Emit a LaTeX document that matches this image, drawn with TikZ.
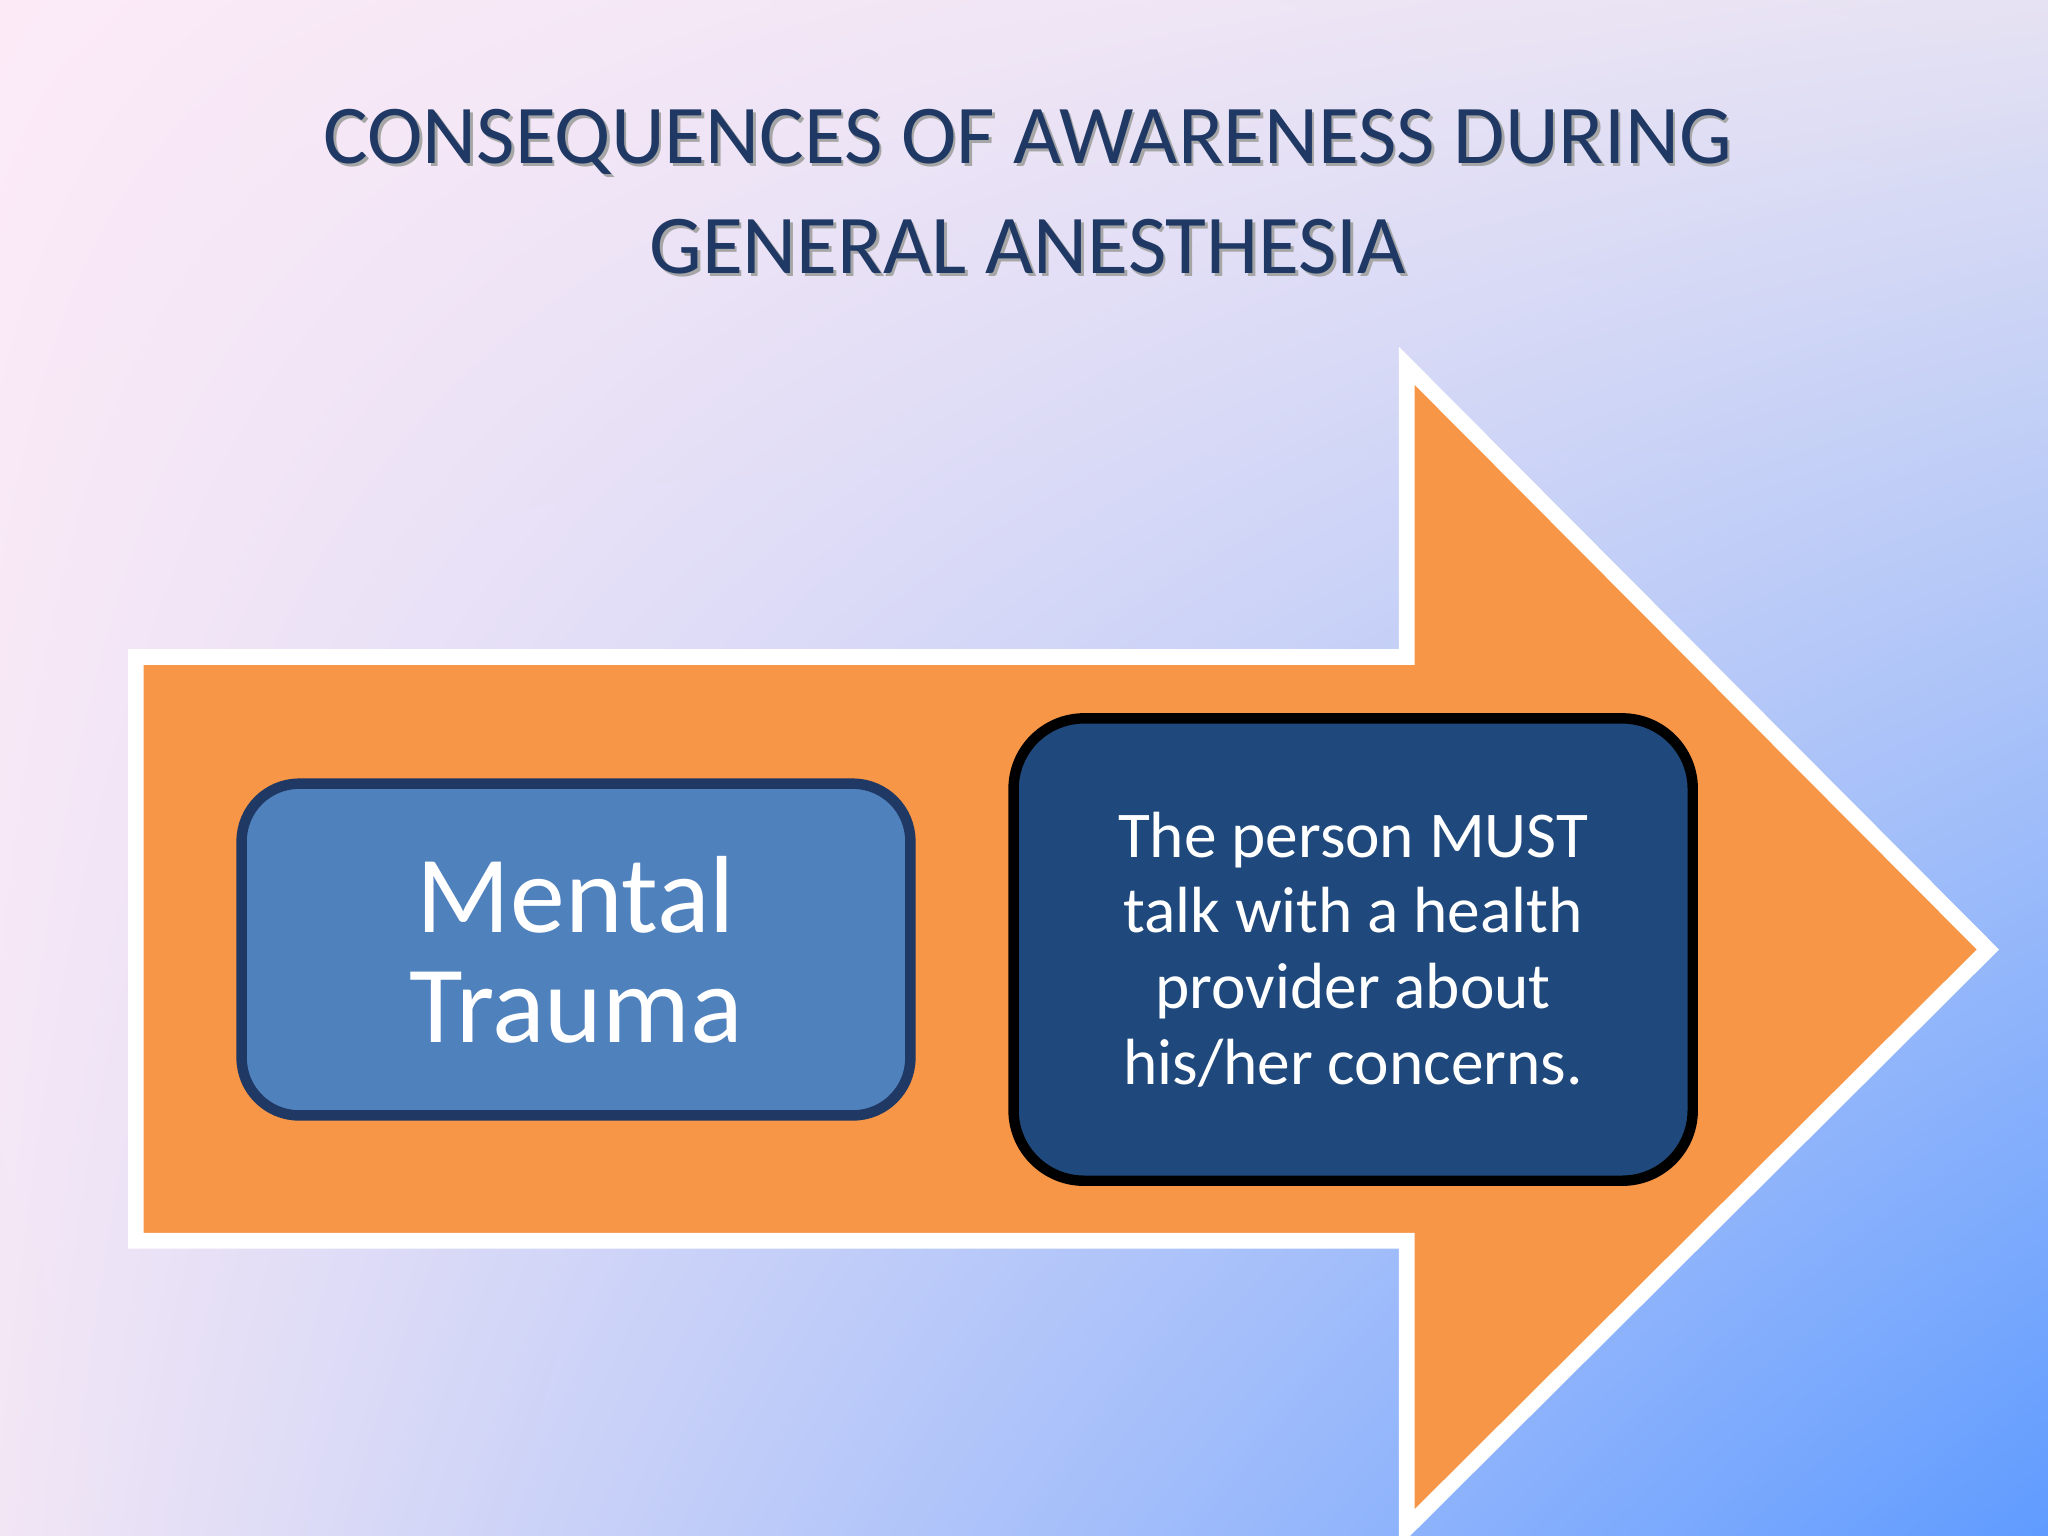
\documentclass[tikz,border=0pt]{standalone}
\usepackage{fontspec}
\usetikzlibrary{shadings}
\setmainfont{Carlito}
\definecolor{orng}{HTML}{F79646}
\definecolor{navy}{HTML}{1F3864}
\definecolor{bA}{HTML}{4F81BD}
\definecolor{bB}{HTML}{1F497D}
\definecolor{tl}{HTML}{FCEAF7}
\definecolor{tr}{HTML}{E6E2F3}
\definecolor{bl}{HTML}{F2E6F5}
\definecolor{br}{HTML}{5F9BFF}
\begin{document}
\begin{tikzpicture}[x=0.5pt,y=-0.5pt,
  box/.style={rounded corners=22pt,line width=4pt,text=white,align=center,inner sep=0pt}]
\useasboundingbox (0,0) rectangle (1568,1176);
\shade[upper left=tl,upper right=tr,lower left=bl,lower right=br] (0,0) rectangle (1568,1176);
\draw[fill=orng,draw=white,line width=6pt,line join=miter]
 (104,503) -- (1077,503) -- (1077,280) -- (1522,727) -- (1077,1170) -- (1077,950) -- (104,950) -- cycle;
\node[box,fill=bA,draw=navy,minimum width=256pt,minimum height=127pt,font=\fontsize{42}{44}\selectfont] (m) at (441,727) {Mental\\[-2pt]Trauma};
\node[box,fill=bB,draw=black,rounded corners=27pt,minimum width=260pt,minimum height=177pt,font=\fontsize{25}{29}\selectfont] (p) at (1036,727) {The person MUST\\talk with a health\\provider about\\his/her concerns.};
\foreach \dx/\c in {2/black!35,0/navy}{
\node[text=\c,font=\fontsize{32}{42}\selectfont,align=center] (t\dx) at (787+\dx,147+\dx) {CONSEQUENCES OF AWARENESS DURING\\GENERAL ANESTHESIA};}
\end{tikzpicture}
\end{document}
